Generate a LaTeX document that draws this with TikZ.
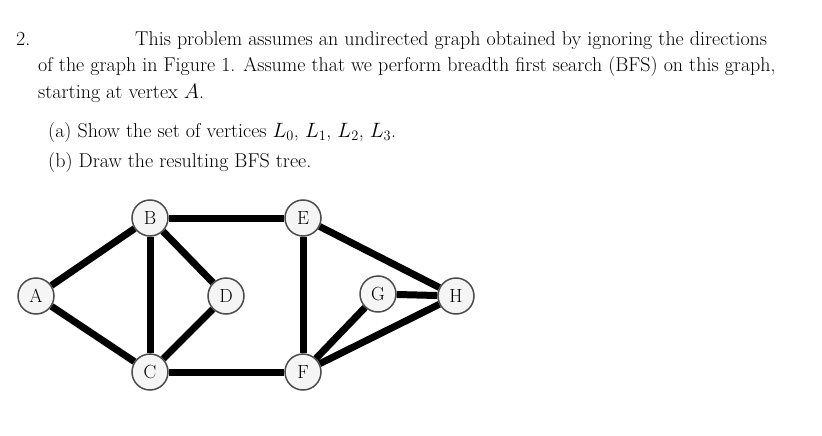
\documentclass[tikz,border=0pt]{standalone}
\begin{document}
\begin{tikzpicture}[x=1pt,y=-1pt,
  v/.style={circle,draw=black!70,line width=1.5pt,fill=black!4,minimum size=36pt,inner sep=0pt,font=\fontsize{19}{19}\selectfont},
  e/.style={line width=7pt},
  t/.style={anchor=base west,inner sep=0pt,font=\fontsize{20}{24}\selectfont}]
\useasboundingbox (0,0) rectangle (822,436);
\node[t] (n2) at (16,46) {2.};
\node[t] (l1) at (135,46) {This problem assumes an undirected graph obtained by ignoring the directions};
\node[t] (l2) at (38,72) {of the graph in Figure 1. Assume that we perform breadth first search (BFS) on this graph,};
\node[t] (l3) at (38,98) {starting at vertex $A$.};
\node[t] (la) at (48,137) {(a) Show the set of vertices $L_0$, $L_1$, $L_2$, $L_3$.};
\node[t] (lb) at (48,167) {(b) Draw the resulting BFS tree.};
\node[v] (A) at (36,296) {A};
\node[v] (B) at (150,218) {B};
\node[v] (C) at (150,372) {C};
\node[v] (D) at (226,296) {D};
\node[v] (E) at (303,218) {E};
\node[v] (F) at (303,372) {F};
\node[v] (G) at (378,294) {G};
\node[v] (H) at (456,296) {H};
\draw[e] (A) -- (B); \draw[e] (A) -- (C); \draw[e] (B) -- (C);
\draw[e] (B) -- (D); \draw[e] (D) -- (C); \draw[e] (B) -- (E);
\draw[e] (C) -- (F); \draw[e] (E) -- (F); \draw[e] (E) -- (H);
\draw[e] (G) -- (H); \draw[e] (F) -- (G); \draw[e] (H) -- (F);
\end{tikzpicture}
\end{document}
